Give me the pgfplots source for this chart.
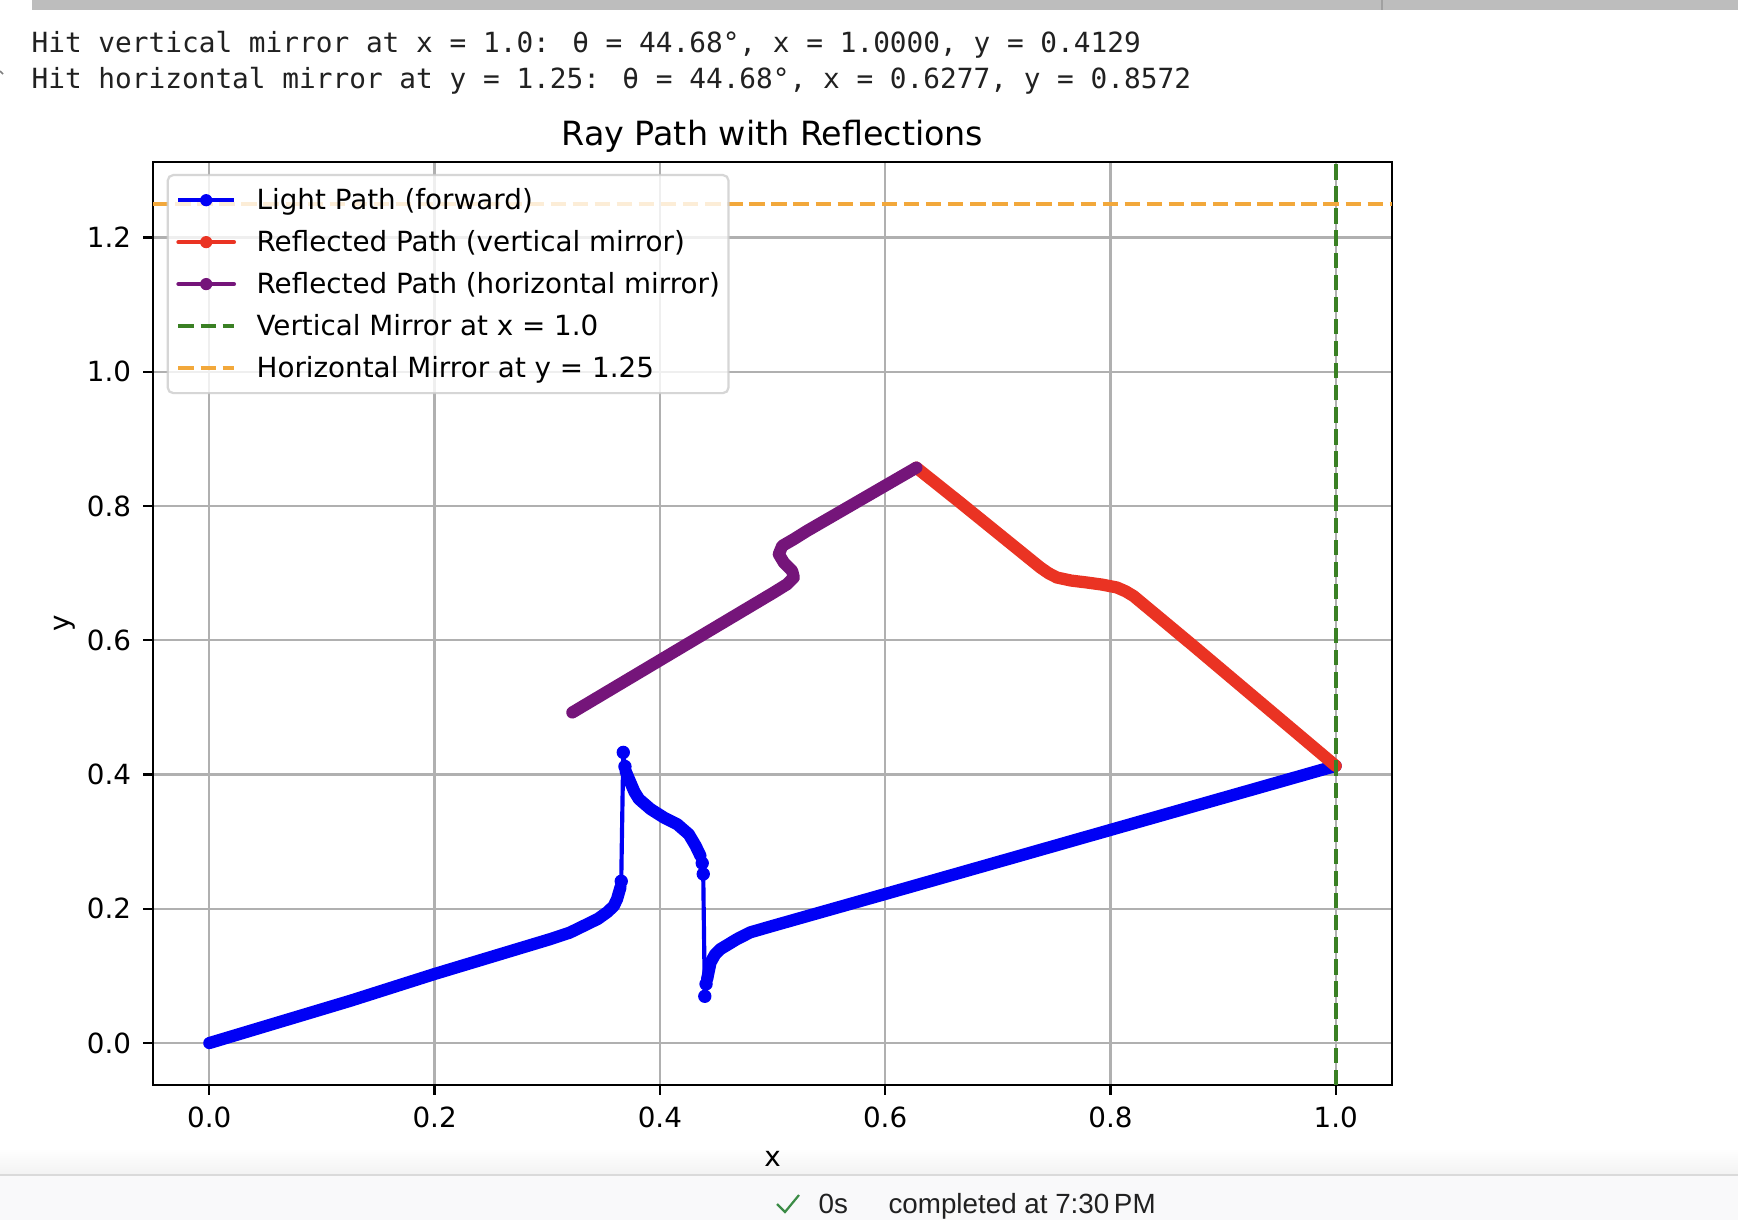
\documentclass[border=0pt]{standalone}
\usepackage{fontspec}
\setmainfont{DejaVu Sans}
\newfontfamily\monofont{DejaVu Sans Mono}
\newfontfamily\uifont{Liberation Sans}
\usepackage{pgfplots}
\pgfplotsset{compat=1.18}
\definecolor{blueP}{RGB}{0,0,245}
\definecolor{redP}{RGB}{234,51,35}
\definecolor{purpleP}{RGB}{117,21,122}
\definecolor{greenP}{RGB}{58,128,36}
\definecolor{orangeP}{RGB}{242,168,59}
\definecolor{gridc}{RGB}{176,176,176}
\definecolor{legedge}{RGB}{204,204,204}
\definecolor{topbar}{RGB}{189,189,189}
\definecolor{topdiv}{RGB}{160,160,160}
\definecolor{txt}{RGB}{33,33,33}
\definecolor{statusbg}{RGB}{249,249,250}
\definecolor{sepcol}{RGB}{218,218,218}
\definecolor{shadowc}{RGB}{243,243,243}
\definecolor{checkgreen}{RGB}{60,140,70}
\begin{document}
\begin{tikzpicture}
\begin{scope}[x=0.36pt,y=-0.36pt]
\useasboundingbox (0,0) rectangle (1738,1220);
\fill[white] (0,0) rectangle (1738,1220);
\fill[topbar] (32,0) rectangle (1738,10);
\fill[topdiv] (1381,0) rectangle (1383,10);
\draw[gray, line width=0.6pt] (0,71) -- (3,74);
\node[anchor=base west, inner sep=0pt, text=txt] at (31,52) {\monofont\fontsize{10}{12}\selectfont Hit vertical mirror at x = 1.0: θ = 44.68°, x = 1.0000, y = 0.4129};
\node[anchor=base west, inner sep=0pt, text=txt] at (31,88) {\monofont\fontsize{10}{12}\selectfont Hit horizontal mirror at y = 1.25: θ = 44.68°, x = 0.6277, y = 0.8572};
\shade[top color=white, bottom color=shadowc] (0,1148) rectangle (1738,1174);
\fill[statusbg] (0,1175) rectangle (1738,1220);
\draw[sepcol, line width=0.8pt] (0,1175) -- (1738,1175);
\draw[checkgreen, line width=0.8pt] (777,1204) -- (785,1212) -- (799,1195);
\node[anchor=base west, inner sep=0pt, text=txt] at (818,1213) {\uifont\fontsize{10}{12}\selectfont 0s};
\node[anchor=base west, inner sep=0pt, text=txt] at (888,1213) {\uifont\fontsize{10}{12}\selectfont completed at 7:30\,PM};
\node[anchor=base, inner sep=0pt] at (772.5,145) {\fontsize{12}{14}\selectfont Ray Path with Reflections};
\node[anchor=base, inner sep=0pt] at (772.5,1166) {\fontsize{10}{12}\selectfont x};
\node[rotate=90, anchor=center, inner sep=0pt] at (64.5,623.5) {\fontsize{10}{12}\selectfont y};
\end{scope}
\begin{axis}[
  at={(55.08pt,-390.6pt)}, anchor=south west,
  scale only axis, width=446.04pt, height=332.28pt,
  xmin=-0.05, xmax=1.05, ymin=-0.0625, ymax=1.3125,
  xtick={0,0.2,0.4,0.6,0.8,1.0}, ytick={0,0.2,0.4,0.6,0.8,1.0,1.2},
  /pgf/number format/assume math mode=true,
  xticklabel={\pgfmathprintnumber[fixed,fixed zerofill,precision=1]{\tick}},
  yticklabel={\pgfmathprintnumber[fixed,fixed zerofill,precision=1]{\tick}},
  tick label style={font=\fontsize{10}{12}\selectfont, text=black},
  xticklabel style={anchor=north, inner sep=0pt, yshift=-4.1pt},
  yticklabel style={anchor=east, inner sep=0pt, xshift=-4.2pt},
  tick align=outside, major tick length=3.5pt, tick pos=left,
  every tick/.style={black, line width=0.8pt},
  axis line style={black, line width=0.8pt},
  grid=major, major grid style={gridc, line width=0.8pt},
  legend cell align=left,
  legend style={at={(0,1)}, anchor=north west, xshift=4.9pt, yshift=-4.3pt,
    draw=legedge, draw opacity=0.8, fill=white, fill opacity=0.8, text opacity=1,
    rounded corners=2pt, line width=0.8pt,
    inner xsep=3.1pt, inner ysep=3.2pt, row sep=3.4pt, column sep=7.4pt,
    font=\fontsize{10}{12}\selectfont,
    nodes={inner sep=0pt, text height=9.3pt, text depth=2.4pt}},
]
% Light path (forward)
\addplot[blueP, line width=1.5pt, mark=*, mark size=2.2pt, mark indices={9,10,11,21,22,23,24},
  mark options={solid, fill=blueP, draw=blueP, line width=0.4pt},
  legend image code/.code={\draw[blueP, line width=1.5pt, draw opacity=1] (0pt,0pt) -- (20pt,0pt); \fill[blueP, draw=none, fill opacity=1] (10pt,0pt) circle (2.2pt);}]
coordinates {(0,0) (0.1256,0.0632) (0.2,0.1029) (0.303,0.155) (0.3326,0.1748) (0.3533,0.195) (0.362,0.2145) (0.365,0.232) (0.3657,0.241) (0.3675,0.433) (0.3690,0.412) (0.3696,0.405) (0.3739,0.388) (0.3814,0.3635) (0.3917,0.3486) (0.4035,0.336) (0.4154,0.326) (0.4257,0.311) (0.4317,0.294) (0.4360,0.279) (0.4376,0.268) (0.4385,0.2518) (0.4399,0.0697) (0.4410,0.088) (0.442,0.0955) (0.445,0.120) (0.4538,0.140) (0.4686,0.155) (0.4804,0.165) (0.5,0.1745) (0.6,0.222) (0.7,0.2697) (0.8,0.3175) (0.9,0.3652)};
\addlegendentry{Light Path (forward)}
\addplot[forget plot, blueP, line width=4.4pt, line cap=round, line join=round, mark=none]
coordinates {(0,0) (0.1256,0.0632) (0.2,0.1029) (0.303,0.155) (0.3200,0.1645) (0.3326,0.1748) (0.3450,0.1850) (0.3533,0.195) (0.3590,0.2040) (0.362,0.2145) (0.365,0.232)};
\addplot[forget plot, blueP, line width=4.4pt, line cap=round, line join=round, mark=none]
coordinates {(0.3696,0.405) (0.3739,0.388) (0.3775,0.3740) (0.3814,0.3635) (0.3917,0.3486) (0.4035,0.336) (0.4154,0.326) (0.4257,0.311) (0.4317,0.294) (0.4360,0.279)};
\addplot[forget plot, blueP, line width=4.4pt, line cap=round, line join=round, mark=none]
coordinates {(0.442,0.0955) (0.445,0.120) (0.4490,0.1320) (0.4538,0.140) (0.4686,0.155) (0.4804,0.165) (0.5,0.1745) (0.6,0.222) (0.7,0.2697) (0.8,0.3175) (0.9,0.3652) (1.0,0.4129)};
% Reflected (vertical mirror)
\addplot[redP, line width=4.4pt, line cap=round, line join=round, mark=none,
  legend image code/.code={\draw[redP, line width=1.5pt, draw opacity=1] (0pt,0pt) -- (20pt,0pt); \fill[redP, draw=none, fill opacity=1] (10pt,0pt) circle (2.2pt);}]
coordinates {(0.6277,0.8572) (0.6667,0.805) (0.7377,0.7085) (0.745,0.7000) (0.7525,0.6935) (0.765,0.6890) (0.779,0.6861) (0.7925,0.6830) (0.8057,0.6787) (0.8135,0.6730) (0.8205,0.666) (0.8737,0.5917) (1.0,0.4129)};
\addlegendentry{Reflected Path (vertical mirror)}
% Reflected (horizontal mirror)
\addplot[purpleP, line width=4.4pt, line cap=round, line join=round, mark=none,
  legend image code/.code={\draw[purpleP, line width=1.5pt, draw opacity=1] (0pt,0pt) -- (20pt,0pt); \fill[purpleP, draw=none, fill opacity=1] (10pt,0pt) circle (2.2pt);}]
coordinates {(0.3223,0.4925) (0.5011,0.6712) (0.513,0.6836) (0.5189,0.6935) (0.5174,0.7034) (0.51,0.7159) (0.5056,0.7283) (0.5086,0.7406) (0.5189,0.7506) (0.5307,0.763) (0.6277,0.8572)};
\addlegendentry{Reflected Path (horizontal mirror)}
% Mirrors
\addplot[greenP, line width=1.5pt, dash pattern=on 5.55pt off 2.4pt,
  legend image code/.code={\draw[greenP, line width=1.5pt, dash pattern=on 5.55pt off 2.4pt, draw opacity=1] (0pt,0pt) -- (20pt,0pt);}]
coordinates {(1.0,-0.0625) (1.0,1.3125)};
\addlegendentry{Vertical Mirror at x = 1.0}
\addplot[orangeP, line width=1.5pt, dash pattern=on 5.55pt off 2.4pt,
  legend image code/.code={\draw[orangeP, line width=1.5pt, dash pattern=on 5.55pt off 2.4pt, draw opacity=1] (0pt,0pt) -- (20pt,0pt);}]
coordinates {(-0.05,1.25) (1.05,1.25)};
\addlegendentry{Horizontal Mirror at y = 1.25}
\end{axis}
\end{tikzpicture}
\end{document}
